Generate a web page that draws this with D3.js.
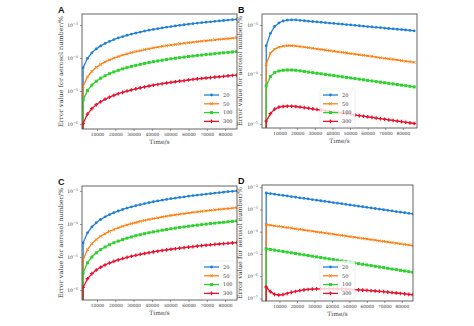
<!DOCTYPE html>
<html>
<head>
<meta charset="utf-8">
<title>Error value for aerosol number</title>
<script src="https://cdn.jsdelivr.net/npm/d3@7"></script>
<style>
  body { margin: 0; background: #fff; }
  svg { display: block; }
  .serif { font-family: "DejaVu Serif", "Liberation Serif", serif; fill: #3a3a3a; }
</style>
</head>
<body>
<div id="chart"></div>
<script>
// time steps, seconds
var times = [2400, 4800, 7200, 9600, 12000, 14400, 16800, 19200, 21600, 24000, 26400, 28800,
             31200, 33600, 36000, 38400, 40800, 43200, 45600, 48000, 50400, 52800, 55200, 57600,
             60000, 62400, 64800, 67200, 69600, 72000, 74400, 76800, 79200, 81600, 84000, 86400];
var sizes = ["20", "50", "100", "300"];
var xTicks = [10000, 20000, 30000, 40000, 50000, 60000, 70000, 80000];

// panel A
var a20 = [5.1e-5, 9.8e-5, 1.44e-4, 1.89e-4, 2.33e-4, 2.76e-4, 3.19e-4, 3.62e-4, 4.05e-4, 4.47e-4, 4.89e-4, 5.3e-4,
           5.71e-4, 6.12e-4, 6.53e-4, 6.95e-4, 7.36e-4, 7.76e-4, 8.17e-4, 8.57e-4, 8.97e-4, 9.38e-4, 9.77e-4, 1.016e-3,
           1.057e-3, 1.096e-3, 1.14e-3, 1.175e-3, 1.216e-3, 1.25e-3, 1.29e-3, 1.33e-3, 1.37e-3, 1.41e-3, 1.45e-3, 1.49e-3];
var a50 = [1.4e-5, 2.7e-5, 3.96e-5, 5.2e-5, 6.4e-5, 7.6e-5, 8.8e-5, 9.95e-5, 1.11e-4, 1.23e-4, 1.34e-4, 1.46e-4,
           1.57e-4, 1.68e-4, 1.8e-4, 1.91e-4, 2.02e-4, 2.13e-4, 2.25e-4, 2.36e-4, 2.47e-4, 2.58e-4, 2.69e-4, 2.79e-4,
           2.91e-4, 3.01e-4, 3.13e-4, 3.23e-4, 3.34e-4, 3.44e-4, 3.55e-4, 3.66e-4, 3.77e-4, 3.88e-4, 3.99e-4, 4.1e-4];
var a100 = [5.4e-6, 1.03e-5, 1.51e-5, 1.98e-5, 2.45e-5, 2.9e-5, 3.35e-5, 3.8e-5, 4.25e-5, 4.69e-5, 5.13e-5, 5.57e-5,
            6.0e-5, 6.43e-5, 6.86e-5, 7.3e-5, 7.73e-5, 8.15e-5, 8.58e-5, 9.0e-5, 9.42e-5, 9.85e-5, 1.026e-4, 1.067e-4,
            1.11e-4, 1.15e-4, 1.2e-4, 1.23e-4, 1.28e-4, 1.31e-4, 1.35e-4, 1.4e-4, 1.44e-4, 1.48e-4, 1.52e-4, 1.56e-4];
var a300 = [1.04e-6, 2.0e-6, 2.94e-6, 3.86e-6, 4.75e-6, 5.63e-6, 6.5e-6, 7.4e-6, 8.3e-6, 9.1e-6, 1.0e-5, 1.08e-5,
            1.16e-5, 1.25e-5, 1.33e-5, 1.42e-5, 1.5e-5, 1.58e-5, 1.67e-5, 1.75e-5, 1.83e-5, 1.91e-5, 1.99e-5, 2.07e-5,
            2.16e-5, 2.24e-5, 2.33e-5, 2.4e-5, 2.48e-5, 2.55e-5, 2.63e-5, 2.71e-5, 2.79e-5, 2.88e-5, 2.96e-5, 3.04e-5];

// panel B
var b20 = [3.8e-4, 6.76e-4, 9.33e-4, 1.096e-3, 1.2e-3, 1.245e-3, 1.26e-3, 1.26e-3, 1.236e-3, 1.213e-3, 1.19e-3, 1.17e-3,
           1.15e-3, 1.13e-3, 1.109e-3, 1.09e-3, 1.07e-3, 1.052e-3, 1.033e-3, 1.014e-3, 9.98e-4, 9.79e-4, 9.62e-4, 9.44e-4,
           9.27e-4, 9.12e-4, 8.95e-4, 8.79e-4, 8.63e-4, 8.47e-4, 8.32e-4, 8.18e-4, 8.04e-4, 7.89e-4, 7.74e-4, 7.6e-4];
var b50 = [1.62e-4, 2.69e-4, 3.24e-4, 3.55e-4, 3.72e-4, 3.8e-4, 3.8e-4, 3.76e-4, 3.66e-4, 3.56e-4, 3.47e-4, 3.37e-4,
           3.28e-4, 3.19e-4, 3.1e-4, 3.02e-4, 2.94e-4, 2.86e-4, 2.79e-4, 2.71e-4, 2.64e-4, 2.57e-4, 2.5e-4, 2.43e-4,
           2.37e-4, 2.31e-4, 2.24e-4, 2.18e-4, 2.12e-4, 2.07e-4, 2.01e-4, 1.96e-4, 1.91e-4, 1.85e-4, 1.81e-4, 1.76e-4];
var b100 = [5.89e-5, 9.12e-5, 1.096e-4, 1.175e-4, 1.216e-4, 1.23e-4, 1.23e-4, 1.216e-4, 1.183e-4, 1.15e-4, 1.119e-4, 1.089e-4,
            1.059e-4, 1.03e-4, 1.002e-4, 9.75e-5, 9.48e-5, 9.23e-5, 8.97e-5, 8.73e-5, 8.49e-5, 8.26e-5, 8.04e-5, 7.82e-5,
            7.6e-5, 7.4e-5, 7.19e-5, 7.0e-5, 6.81e-5, 6.62e-5, 6.44e-5, 6.27e-5, 6.1e-5, 5.93e-5, 5.77e-5, 5.61e-5];
var b300 = [1.148e-5, 1.62e-5, 2.0e-5, 2.19e-5, 2.26e-5, 2.29e-5, 2.29e-5, 2.26e-5, 2.2e-5, 2.14e-5, 2.08e-5, 2.02e-5,
            1.96e-5, 1.91e-5, 1.86e-5, 1.81e-5, 1.75e-5, 1.71e-5, 1.66e-5, 1.61e-5, 1.57e-5, 1.52e-5, 1.48e-5, 1.44e-5,
            1.4e-5, 1.36e-5, 1.32e-5, 1.285e-5, 1.25e-5, 1.21e-5, 1.18e-5, 1.15e-5, 1.117e-5, 1.084e-5, 1.054e-5, 1.026e-5];

// panel C
var c20 = [2.69e-5, 5.42e-5, 8.16e-5, 1.091e-4, 1.367e-4, 1.643e-4, 1.92e-4, 2.2e-4, 2.47e-4, 2.75e-4, 3.03e-4, 3.31e-4,
           3.59e-4, 3.86e-4, 4.14e-4, 4.42e-4, 4.71e-4, 4.98e-4, 5.27e-4, 5.54e-4, 5.83e-4, 6.1e-4, 6.38e-4, 6.66e-4,
           6.95e-4, 7.23e-4, 7.51e-4, 7.79e-4, 8.07e-4, 8.35e-4, 8.64e-4, 8.92e-4, 9.2e-4, 9.48e-4, 9.76e-4, 1.003e-3];
var c50 = [8.3e-6, 1.68e-5, 2.53e-5, 3.38e-5, 4.24e-5, 5.09e-5, 5.95e-5, 6.82e-5, 7.66e-5, 8.53e-5, 9.39e-5, 1.026e-4,
           1.11e-4, 1.2e-4, 1.28e-4, 1.37e-4, 1.46e-4, 1.54e-4, 1.63e-4, 1.72e-4, 1.81e-4, 1.89e-4, 1.98e-4, 2.06e-4,
           2.15e-4, 2.24e-4, 2.33e-4, 2.41e-4, 2.5e-4, 2.59e-4, 2.68e-4, 2.77e-4, 2.85e-4, 2.94e-4, 3.03e-4, 3.11e-4];
var c100 = [3.3e-6, 6.7e-6, 1.0e-5, 1.34e-5, 1.68e-5, 2.02e-5, 2.36e-5, 2.71e-5, 3.04e-5, 3.38e-5, 3.73e-5, 4.07e-5,
            4.42e-5, 4.75e-5, 5.09e-5, 5.44e-5, 5.79e-5, 6.13e-5, 6.48e-5, 6.81e-5, 7.17e-5, 7.5e-5, 7.85e-5, 8.19e-5,
            8.55e-5, 8.89e-5, 9.24e-5, 9.58e-5, 9.93e-5, 1.027e-4, 1.063e-4, 1.097e-4, 1.13e-4, 1.166e-4, 1.2e-4, 1.234e-4];
var c300 = [1.2e-6, 2.2e-6, 3.14e-6, 4.04e-6, 4.91e-6, 5.76e-6, 6.59e-6, 7.4e-6, 8.21e-6, 9.0e-6, 9.78e-6, 1.056e-5,
            1.13e-5, 1.21e-5, 1.28e-5, 1.36e-5, 1.43e-5, 1.5e-5, 1.58e-5, 1.65e-5, 1.72e-5, 1.79e-5, 1.86e-5, 1.93e-5,
            2.0e-5, 2.07e-5, 2.14e-5, 2.21e-5, 2.28e-5, 2.35e-5, 2.41e-5, 2.48e-5, 2.55e-5, 2.61e-5, 2.68e-5, 2.75e-5];

// panel D
var d20 = [5.5e-3, 5.17e-3, 4.86e-3, 4.57e-3, 4.29e-3, 4.04e-3, 3.79e-3, 3.57e-3, 3.35e-3, 3.15e-3, 2.96e-3, 2.78e-3,
           2.62e-3, 2.46e-3, 2.31e-3, 2.17e-3, 2.04e-3, 1.92e-3, 1.81e-3, 1.7e-3, 1.59e-3, 1.5e-3, 1.41e-3, 1.32e-3,
           1.24e-3, 1.17e-3, 1.1e-3, 1.03e-3, 9.7e-4, 9.12e-4, 8.57e-4, 8.06e-4, 7.57e-4, 7.12e-4, 6.69e-4, 6.29e-4];
var d50 = [2.09e-4, 1.96e-4, 1.84e-4, 1.73e-4, 1.63e-4, 1.53e-4, 1.44e-4, 1.35e-4, 1.27e-4, 1.19e-4, 1.12e-4, 1.05e-4,
           9.89e-5, 9.29e-5, 8.73e-5, 8.2e-5, 7.71e-5, 7.24e-5, 6.8e-5, 6.39e-5, 6.01e-5, 5.64e-5, 5.3e-5, 4.98e-5,
           4.68e-5, 4.4e-5, 4.13e-5, 3.88e-5, 3.65e-5, 3.43e-5, 3.22e-5, 3.03e-5, 2.84e-5, 2.67e-5, 2.51e-5, 2.36e-5];
var d100 = [1.7e-5, 1.585e-5, 1.48e-5, 1.38e-5, 1.285e-5, 1.2e-5, 1.12e-5, 1.04e-5, 9.71e-6, 9.06e-6, 8.45e-6, 7.88e-6,
            7.35e-6, 6.85e-6, 6.39e-6, 5.96e-6, 5.56e-6, 5.18e-6, 4.83e-6, 4.51e-6, 4.2e-6, 3.92e-6, 3.66e-6, 3.41e-6,
            3.18e-6, 2.97e-6, 2.77e-6, 2.58e-6, 2.41e-6, 2.24e-6, 2.09e-6, 1.95e-6, 1.82e-6, 1.7e-6, 1.58e-6, 1.48e-6];
var d300 = [3.24e-7, 2.0e-7, 1.51e-7, 1.41e-7, 1.48e-7, 1.66e-7, 1.86e-7, 2.04e-7, 2.24e-7, 2.4e-7, 2.51e-7, 2.6e-7,
            2.66e-7, 2.69e-7, 2.72e-7, 2.72e-7, 2.69e-7, 2.66e-7, 2.63e-7, 2.57e-7, 2.51e-7, 2.45e-7, 2.4e-7, 2.34e-7,
            2.29e-7, 2.21e-7, 2.14e-7, 2.07e-7, 2.0e-7, 1.91e-7, 1.82e-7, 1.74e-7, 1.66e-7, 1.58e-7, 1.51e-7, 1.45e-7];

var colors = ["#1f80d8", "#ff7f10", "#2ed12e", "#e8132e"];

// layout of the four panels (pixel boxes, axis ranges as powers of ten)
var panels = [
  {name: "A", box: [82, 14, 237, 129], xDom: [1800, 86500], yExp: [-6.15, -2.667], yTicks: [-6, -5, -4, -3],
   legend: [201, 89], series: [a20, a50, a100, a300]},
  {name: "B", box: [262, 14, 417, 128], xDom: [0, 88000], yExp: [-5.08, -2.78], yTicks: [-5, -4, -3],
   legend: [320, 89], series: [b20, b50, b100, b300]},
  {name: "C", box: [82, 186, 237, 300], xDom: [1800, 86500], yExp: [-6.3, -2.85], yTicks: [-6, -5, -4, -3],
   legend: [201, 261], series: [c20, c50, c100, c300]},
  {name: "D", box: [262, 185, 413, 301], xDom: [0, 86400], yExp: [-7.12, -1.9], yTicks: [-7, -6, -5, -4, -3, -2],
   legend: [320, 261], series: [d20, d50, d100, d300]}
];

var W = 474, H = 326;
var svg = d3.select("#chart").append("svg").attr("width", W).attr("height", H);

// marker per series: dot, small x, square, plus
function drawMarker(g, i, cx, cy) {
  var c = colors[i];
  if (i == 0) {
    g.append("circle").attr("cx", cx).attr("cy", cy).attr("r", 1.4).attr("fill", c);
  } else if (i == 1) {
    g.append("path").attr("d", "M" + (cx - 1.3) + "," + (cy - 1.3) + "l2.6,2.6M" + (cx - 1.3) + "," + (cy + 1.3) + "l2.6,-2.6")
      .attr("stroke", c).attr("stroke-width", 1);
  } else if (i == 2) {
    g.append("rect").attr("x", cx - 1.5).attr("y", cy - 1.5).attr("width", 3).attr("height", 3).attr("fill", c);
  } else {
    g.append("path").attr("d", "M" + (cx - 1.8) + "," + cy + "h3.6M" + cx + "," + (cy - 1.8) + "v3.6")
      .attr("stroke", c).attr("stroke-width", 1.3);
  }
}

panels.forEach(function(p, pi) {
  var l = p.box[0], t = p.box[1], r = p.box[2], b = p.box[3];
  var x = d3.scaleLinear().domain(p.xDom).range([l, r]);
  var y = d3.scaleLog().domain([Math.pow(10, p.yExp[0]), Math.pow(10, p.yExp[1])]).range([b, t]);

  var g = svg.append("g");

  // clip to plot area
  svg.append("clipPath").attr("id", "clip" + pi)
    .append("rect").attr("x", l).attr("y", t).attr("width", r - l).attr("height", b - t);

  // x axis
  var xa = g.append("g").attr("transform", "translate(0," + b + ")")
    .call(d3.axisBottom(x).tickValues(xTicks).tickSize(2).tickPadding(1.5).tickFormat(d3.format("d")));
  xa.select(".domain").remove();
  xa.selectAll("line").attr("stroke", "#555").attr("stroke-width", 0.6);
  xa.selectAll("text").attr("class", "serif").attr("font-size", 4.3).attr("fill", "#3a3a3a");

  // y axis (log, labels as 10^n)
  var ya = g.append("g").attr("transform", "translate(" + l + ",0)")
    .call(d3.axisLeft(y).tickValues(p.yTicks.map(function(e) { return Math.pow(10, e); }))
      .tickSize(2).tickPadding(2).tickFormat(function() { return ""; }));
  ya.select(".domain").remove();
  ya.selectAll("line").attr("stroke", "#555").attr("stroke-width", 0.6);
  ya.selectAll(".tick text").each(function(d) {
    var txt = d3.select(this).attr("class", "serif").attr("font-size", 4.6).attr("fill", "#3a3a3a");
    txt.text("10");
    txt.append("tspan").attr("dy", -2).attr("font-size", 3.4).text("\u2212" + Math.round(-Math.log10(d)));
  });

  // lines + markers
  var plot = g.append("g").attr("clip-path", "url(#clip" + pi + ")");
  p.series.forEach(function(vals, si) {
    var pts = vals.map(function(v, k) { return [x(times[k]), y(v)]; });
    // first sample drops to zero, drawn as a vertical drop to the axis bottom
    var line = d3.line();
    plot.append("path")
      .attr("d", line([[pts[0][0], b + 2]].concat(pts)))
      .attr("fill", "none").attr("stroke", colors[si]).attr("stroke-width", 1.3);
    var mg = plot.append("g");
    pts.forEach(function(pt) { drawMarker(mg, si, pt[0], pt[1]); });
  });

  // frame
  g.append("rect").attr("x", l).attr("y", t).attr("width", r - l).attr("height", b - t)
    .attr("fill", "none").attr("stroke", "#555").attr("stroke-width", 0.9);

  // legend
  var lx = p.legend[0], ly = p.legend[1];
  var lg = g.append("g");
  lg.append("rect").attr("x", lx).attr("y", ly).attr("width", 35).attr("height", 38).attr("rx", 1.5)
    .attr("fill", "#fff").attr("fill-opacity", 0.8).attr("stroke", "#ddd").attr("stroke-width", 0.5);
  sizes.forEach(function(s, si) {
    var yy = ly + 6 + si * 8.8;
    lg.append("line").attr("x1", lx + 3).attr("x2", lx + 18).attr("y1", yy).attr("y2", yy)
      .attr("stroke", colors[si]).attr("stroke-width", 1.3);
    drawMarker(lg, si, lx + 10.5, yy);
    lg.append("text").attr("class", "serif").attr("x", lx + 22).attr("y", yy).attr("dy", "0.35em")
      .attr("font-size", 5).text(s);
  });

  // axis titles
  g.append("text").attr("class", "serif").attr("x", (l + r) / 2).attr("y", b + 15)
    .attr("text-anchor", "middle").attr("font-size", 6).text("Time/s");
  var cy = (t + b) / 2;
  var yl = pi % 2 == 0 ? l - 19 : l - 20;
  g.append("text").attr("class", "serif")
    .attr("transform", "translate(" + yl + "," + cy + ") rotate(-90)")
    .attr("text-anchor", "middle").attr("font-size", 6.2)
    .attr("textLength", b - t - 4).attr("lengthAdjust", "spacingAndGlyphs")
    .text("Error value for aerosol number/%");

  // panel letter
  g.append("text").attr("x", l - 24).attr("y", t - 1)
    .attr("font-family", "Liberation Sans, Arial, sans-serif").attr("font-weight", "bold")
    .attr("font-size", 9).attr("fill", "#111").text(p.name);
});
</script>
</body>
</html>
